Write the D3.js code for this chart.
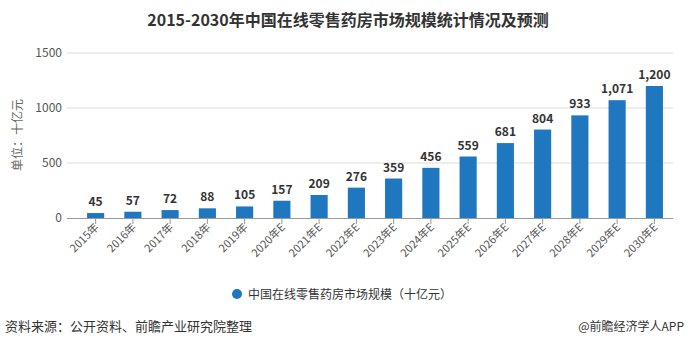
<!DOCTYPE html>
<html>
<head>
<meta charset="utf-8">
<script src="https://d3js.org/d3.v7.min.js"></script>
<style>
  body { margin: 0; background: #fff; }
  text { font-family: "Noto Sans CJK SC", "Noto Sans", sans-serif; }
</style>
</head>
<body>
<script>
    var width = 688, height = 345;

    // data
    var years = ["2015年", "2016年", "2017年", "2018年", "2019年", "2020年E", "2021年E", "2022年E",
        "2023年E", "2024年E", "2025年E", "2026年E", "2027年E", "2028年E", "2029年E", "2030年E"];
    var values = [45, 57, 72, 88, 105, 157, 209, 276, 359, 456, 559, 681, 804, 933, 1071, 1200];
    var yTicks = [0, 500, 1000, 1500];
    var seriesName = "中国在线零售药房市场规模（十亿元）";

    var data = years.map(function (d, i) { return { year: d, value: values[i] }; });

    var svg = d3.select('body').append('svg').attr('width', width).attr('height', height);

    var x = d3.scaleBand().domain(years).range([77, 673]).paddingInner(0.54).paddingOuter(0.27);
    var y = d3.scaleLinear().domain([0, 1500]).range([218, 53]);

    // title
    svg.append('text').attr('x', 348).attr('y', 26).attr('text-anchor', 'middle')
        .attr('font-size', 16).attr('font-weight', 'bold').attr('fill', '#333')
        .text('2015-2030年中国在线零售药房市场规模统计情况及预测');

    // grid + y labels
    svg.append('g').selectAll('line').data(yTicks.filter(function (d) { return d > 0; }))
        .join('line')
        .attr('x1', 67).attr('x2', 673)
        .attr('y1', function (d) { return y(d); }).attr('y2', function (d) { return y(d); })
        .attr('stroke', '#dcdcdc');

    svg.append('g').selectAll('text').data(yTicks).join('text')
        .attr('x', 62).attr('y', function (d) { return y(d) + 4; })
        .attr('text-anchor', 'end').attr('font-size', 12).attr('fill', '#555')
        .text(function (d) { return d; });

    svg.append('text').attr('transform', 'translate(22,135) rotate(-90)')
        .attr('text-anchor', 'middle').attr('font-size', 12).attr('fill', '#666')
        .text('单位：十亿元');

    // bars
    svg.append('g').selectAll('rect').data(data).join('rect')
        .attr('x', function (d) { return x(d.year); })
        .attr('width', x.bandwidth())
        .attr('y', function (d) { return y(d.value); })
        .attr('height', function (d) { return y(0) - y(d.value); })
        .attr('fill', '#1f77c0');

    // value labels
    svg.append('g').selectAll('text').data(data).join('text')
        .attr('x', function (d) { return x(d.year) + x.bandwidth() / 2; })
        .attr('y', function (d) { return y(d.value) - 7; })
        .attr('text-anchor', 'middle').attr('font-size', 12).attr('font-weight', 'bold')
        .attr('fill', '#333')
        .text(function (d) { return d3.format(',')(d.value); });

    // x axis
    svg.append('line').attr('x1', 67).attr('x2', 673).attr('y1', 218.5).attr('y2', 218.5)
        .attr('stroke', '#999');
    svg.append('g').selectAll('line').data(years).join('line')
        .attr('x1', function (d) { return x(d) + x.bandwidth() / 2; })
        .attr('x2', function (d) { return x(d) + x.bandwidth() / 2; })
        .attr('y1', 218).attr('y2', 224).attr('stroke', '#999');
    svg.append('g').selectAll('text').data(years).join('text')
        .attr('transform', function (d) {
            return 'translate(' + (x(d) + x.bandwidth() / 2 + 4) + ',228) rotate(-45)';
        })
        .attr('text-anchor', 'end').attr('font-size', 11).attr('fill', '#555')
        .text(function (d) { return d; });

    // legend
    svg.append('circle').attr('cx', 237).attr('cy', 294).attr('r', 5).attr('fill', '#1f77c0');
    svg.append('text').attr('x', 248).attr('y', 298.5).attr('font-size', 12).attr('fill', '#333')
        .text(seriesName);

    // footer
    svg.append('text').attr('x', 5).attr('y', 331).attr('font-size', 13).attr('fill', '#333')
        .text('资料来源：公开资料、前瞻产业研究院整理');
    svg.append('text').attr('x', 684).attr('y', 331).attr('text-anchor', 'end')
        .attr('font-size', 12).attr('fill', '#333')
        .text('@前瞻经济学人APP');
</script>
</body>
</html>
